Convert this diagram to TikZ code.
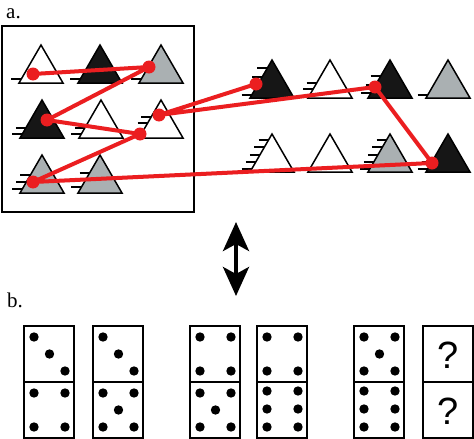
\documentclass[tikz,border=0pt]{standalone}
\usepackage{fontspec}
\setmainfont{Liberation Serif}
\newfontfamily\qfont{Liberation Sans}
\usetikzlibrary{arrows.meta}
\definecolor{trigray}{RGB}{170,176,178}
\definecolor{triblack}{RGB}{22,22,22}
\definecolor{redline}{RGB}{235,30,32}
\tikzset{
  tri/.style={draw=black, line width=1.5pt, line join=miter},
  tickline/.style={draw=black, line width=1.5pt},
  framebox/.style={draw=black, line width=1.5pt},
  redl/.style={draw=redline, line width=4pt, line join=round, line cap=round},
  reddot/.style={fill=redline},
  domhalf/.style={draw=black, line width=1.6pt},
  pip/.style={fill=black},
  lbl/.style={font=\fontsize{21}{21}\selectfont, inner sep=0pt},
  qmark/.style={font=\qfont\fontsize{38}{38}\selectfont, inner sep=0pt},
  bigarrow/.style={line width=4pt, {Stealth[length=29pt,width=26pt,inset=7pt]}-{Stealth[length=29pt,width=26pt,inset=7pt]}}
}
% triangle: x apex, y base, fill, tick heights
\newcommand\tri[4]{%
  \foreach \h in {#4} {\draw[tickline] ({#1-22+22*\h/38-10},{#2-\h}) -- ({#1-22+22*\h/38+1},{#2-\h});}
  \draw[tri, fill=#3] (#1-22,#2) -- (#1,#2-38) -- (#1+22,#2) -- cycle;
}
\newcommand\trinotick[3]{%
  \draw[tri, fill=#3] (#1-22,#2) -- (#1,#2-38) -- (#1+22,#2) -- cycle;
}
% domino half: left x, top y, pip list
\newcommand\dhalf[3]{%
  \draw[domhalf, fill=white] (#1,#2) rectangle (#1+50,#2+56);
  \foreach \px/\py in {#3} {\fill[pip] ({#1+\px},{#2+\py}) circle (4.7);}
}
\begin{document}
\begin{tikzpicture}[x=1pt,y=-1pt]
\useasboundingbox (0,0) rectangle (474,439);
\fill[white] (0,0) rectangle (474,439);

\node[lbl, anchor=base west] (la) at (6,18) {a.};
\node[lbl, anchor=base west] (lb) at (7,307) {b.};

\draw[framebox] (2,26) rectangle (194,212);

% box row 1
\tri{41}{83}{white}{4}
\tri{100}{83}{triblack}{4}
\tri{161}{83}{trigray}{4}
% box row 2
\tri{42}{138}{triblack}{4,10}
\tri{101}{138}{white}{4,10}
\tri{161}{138}{white}{15,21}
% box row 3
\tri{42}{193}{trigray}{4,11,18}
\tri{100}{193}{trigray}{6,13,20}
% right row A
\tri{272}{98}{triblack}{3,12,21,30}
\tri{330}{98}{white}{9,15}
\tri{390}{98}{triblack}{5,13,22}
\tri{448}{98}{trigray}{3}
% right row B
\tri{272}{172}{white}{3,10,17,25,32}
\trinotick{330}{172}{white}
\tri{390}{172}{trigray}{3,10,17,25,32}
\tri{448}{172}{triblack}{3,10}

% red path
\coordinate (p1) at (33,74);
\coordinate (p2) at (149,67);
\coordinate (p3) at (47,120);
\coordinate (p4) at (140,134);
\coordinate (p5) at (159,115);
\coordinate (p6) at (33,182);
\coordinate (p7) at (256,84);
\coordinate (p8) at (375,87);
\coordinate (p9) at (432,163);
\draw[redl] (p1) -- (p2) -- (p3) -- (p4) -- (p6) -- (p9) -- (p8) -- (p5) -- (p7);
\foreach \p in {p1,p2,p3,p4,p5,p6,p7,p8,p9} {\fill[reddot] (\p) circle (6.5);}

% double arrow
\coordinate (arrTop) at (236,222);
\coordinate (arrBot) at (236,296);
\draw[bigarrow] (arrTop) -- (arrBot);

% dominoes
\dhalf{24}{326}{10/11,25.5/28,41/45}
\dhalf{24}{382}{10/11,41/11,10/45,41/45}
\dhalf{93}{326}{10/11,25.5/28,41/45}
\dhalf{93}{382}{10/11,41/11,10/45,41/45,25.5/28}
\dhalf{190}{326}{10/11,41/11,10/45,41/45}
\dhalf{190}{382}{10/11,41/11,10/45,41/45,25.5/28}
\dhalf{257}{326}{10/11,41/11,10/45,41/45}
\dhalf{257}{382}{10/9,41/9,10/27,41/27,10/45,41/45}
\dhalf{354}{326}{10/11,41/11,10/45,41/45,25.5/28}
\dhalf{354}{382}{10/9,41/9,10/27,41/27,10/45,41/45}
\draw[domhalf] (423,326) rectangle (473,382);
\draw[domhalf] (423,382) rectangle (473,438);
\node[qmark] (q1) at (448,355) {?};
\node[qmark] (q2) at (448,411) {?};
\end{tikzpicture}
\end{document}
